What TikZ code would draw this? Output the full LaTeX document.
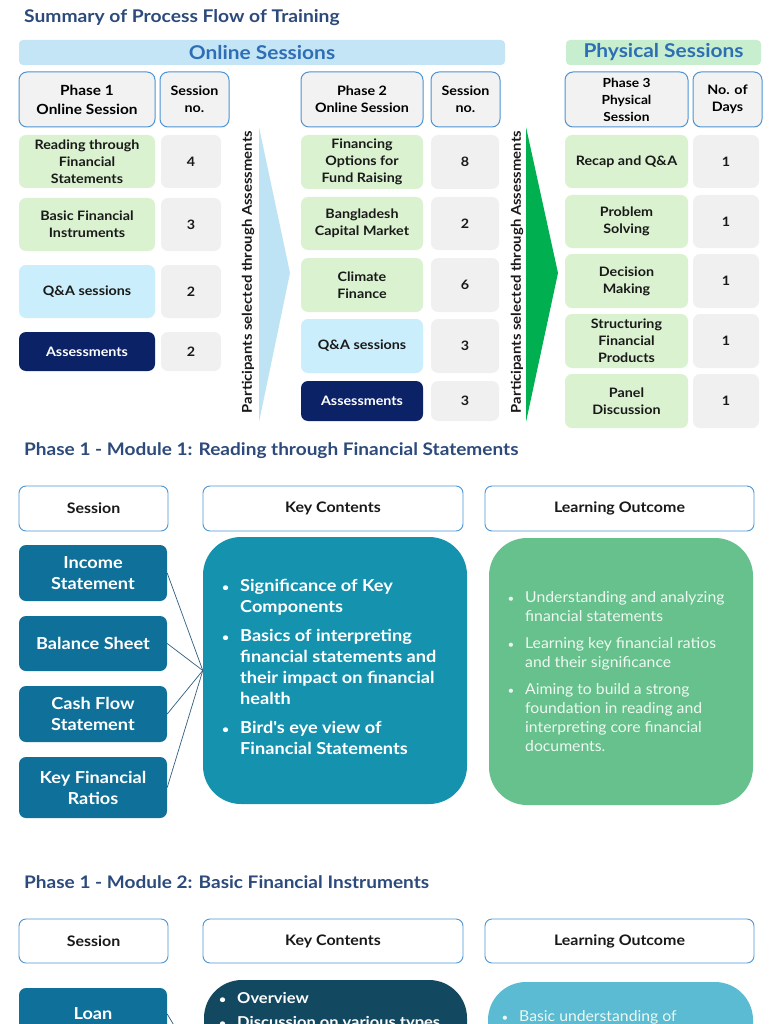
\documentclass[tikz,border=0pt]{standalone}
\usepackage{fontspec}
\setmainfont{Lato}[FakeStretch=1.05,BoldFeatures={FakeStretch=1.1}]
\definecolor{titleblue}{HTML}{2C4A7B}
\definecolor{bannertext}{HTML}{2E6EB5}
\definecolor{bannerblue}{HTML}{C3E5F6}
\definecolor{bannergreen}{HTML}{C7EFCF}
\definecolor{hdrborder}{HTML}{4C94D4}
\definecolor{hdrfill}{HTML}{F2F2F2}
\definecolor{rowgreen}{HTML}{DAF2D0}
\definecolor{rowblue}{HTML}{CAEEFB}
\definecolor{rownavy}{HTML}{0C2266}
\definecolor{numgray}{HTML}{F0F0F0}
\definecolor{arrowblue}{HTML}{BDE3F5}
\definecolor{arrowgreen}{HTML}{00B050}
\definecolor{sessteal}{HTML}{0F7199}
\definecolor{kcteal}{HTML}{1592AE}
\definecolor{logreen}{HTML}{66C18C}
\definecolor{lotext}{HTML}{EEF8F1}
\definecolor{conncol}{HTML}{2F5F80}
\definecolor{kcdark}{HTML}{134861}
\definecolor{lolight}{HTML}{5ABBD3}
\newcommand\bul{\llap{{\fontsize{11}{11}\selectfont\textbullet}\hspace{11pt}}}
\begin{document}
\begin{tikzpicture}[x=1pt,y=-1pt,
  wh/.style n args={2}{minimum width=#1pt,minimum height=#2pt},
  banner/.style={rounded corners=4pt,inner sep=0pt,font=\bfseries\fontsize{19}{21}\selectfont,text=bannertext},
  hdr/.style={draw=hdrborder,line width=1pt,fill=hdrfill,rounded corners=8pt,inner sep=0pt,align=center,font=\bfseries\fontsize{13}{17}\selectfont},
  cellbox/.style={rounded corners=7pt,inner sep=0pt,align=center,font=\bfseries\fontsize{13}{17}\selectfont,text=black!90},
  gcell/.style={cellbox,fill=rowgreen},
  bcell/.style={cellbox,fill=rowblue},
  ncell/.style={cellbox,fill=rownavy,text=white},
  numcell/.style={cellbox,fill=numgray},
  arrlabel/.style={rotate=90,inner sep=0pt,font=\bfseries\fontsize{13.5}{15}\selectfont,text=black!90},
  sectitle/.style={anchor=base west,inner sep=0pt,font=\bfseries\fontsize{17.3}{20}\selectfont,text=titleblue},
  modhdr/.style={draw=hdrborder,line width=0.9pt,fill=white,rounded corners=7pt,inner sep=0pt,align=center,font=\bfseries\fontsize{14.5}{18}\selectfont,text=black!90},
  sess/.style={fill=sessteal,rounded corners=7pt,inner sep=0pt,align=center,text=white,font=\bfseries\fontsize{16.5}{21}\selectfont},
  bigbox/.style={rounded corners=38pt,inner sep=0pt},
  conn/.style={draw=conncol,line width=0.7pt},
  bultext/.style={anchor=north west,inner sep=0pt,align=left}
]
\useasboundingbox (0,0) rectangle (768,1024);
\fill[white] (0,0) rectangle (768,1024);
\clip (0,0) rectangle (768,1024);

% ---------- Summary ----------
\node[sectitle,font=\bfseries\fontsize{17.5}{20}\selectfont] (title) at (24,22.5) {Summary of Process Flow of Training};

\node[banner,fill=bannerblue,wh={486}{25}] (onl) at (262,52.5) {Online Sessions};
\node[banner,fill=bannergreen,wh={195}{25}] (phy) at (663.5,52.5) {Physical Sessions};

% headers
\node[hdr,wh={136}{55},font=\bfseries\fontsize{14}{19}\selectfont] (h1) at (87,99.5) {Phase 1\\Online Session};
\node[hdr,wh={69}{55}] (h1n) at (194.5,99.5) {Session\\no.};
\node[hdr,wh={122}{55}] (h2) at (362,99.5) {Phase 2\\Online Session};
\node[hdr,wh={69}{55}] (h2n) at (465.5,99.5) {Session\\no.};
\node[hdr,wh={123}{55},font=\bfseries\fontsize{12.5}{17}\selectfont] (h3) at (626.5,99.5) {Phase 3\\Physical\\Session};
\node[hdr,wh={69}{55}] (h3n) at (727.5,99.5) {No. of\\Days};

% phase 1 rows
\node[gcell,wh={136}{53}] (r1) at (87,161.5) {Reading through\\Financial\\Statements};
\node[numcell,wh={60}{53}] (r1n) at (191,161.5) {4};
\node[gcell,wh={136}{53}] (r2) at (87,224.5) {Basic Financial\\Instruments};
\node[numcell,wh={60}{53}] (r2n) at (191,224.5) {3};
\node[bcell,wh={136}{53}] (r3) at (87,291.5) {Q\&A sessions};
\node[numcell,wh={60}{53}] (r3n) at (191,291.5) {2};
\node[ncell,wh={136}{39}] (r4) at (87,351.5) {Assessments};
\node[numcell,wh={60}{39}] (r4n) at (191,351.5) {2};

% phase 2 rows
\node[gcell,wh={122}{54}] (s1) at (362,162) {Financing\\Options for\\Fund Raising};
\node[numcell,wh={68}{54}] (s1n) at (465,162) {8};
\node[gcell,wh={122}{53}] (s2) at (362,223.5) {Bangladesh\\Capital Market};
\node[numcell,wh={68}{53}] (s2n) at (465,223.5) {2};
\node[gcell,wh={122}{54}] (s3) at (362,285) {Climate\\Finance};
\node[numcell,wh={68}{54}] (s3n) at (465,285) {6};
\node[bcell,wh={122}{54}] (s4) at (362,346) {Q\&A sessions};
\node[numcell,wh={68}{54}] (s4n) at (465,346) {3};
\node[ncell,wh={122}{40}] (s5) at (362,401) {Assessments};
\node[numcell,wh={68}{40}] (s5n) at (465,401) {3};

% phase 3 rows
\node[gcell,wh={123}{53}] (t1) at (626.5,161.5) {Recap and Q\&A};
\node[numcell,wh={66}{53}] (t1n) at (726,161.5) {1};
\node[gcell,wh={123}{53}] (t2) at (626.5,221.5) {Problem\\Solving};
\node[numcell,wh={66}{53}] (t2n) at (726,221.5) {1};
\node[gcell,wh={123}{54}] (t3) at (626.5,281) {Decision\\Making};
\node[numcell,wh={66}{54}] (t3n) at (726,281) {1};
\node[gcell,wh={123}{54}] (t4) at (626.5,341) {Structuring\\Financial\\Products};
\node[numcell,wh={66}{54}] (t4n) at (726,341) {1};
\node[gcell,wh={123}{54}] (t5) at (626.5,401) {Panel\\Discussion};
\node[numcell,wh={66}{54}] (t5n) at (726,401) {1};

% arrows
\fill[arrowblue] (259,127) -- (290,273) -- (259,422) -- cycle;
\node[arrlabel] (a1) at (248,272) {Participants selected through Assessments};
\fill[arrowgreen] (526,127) -- (558,273) -- (526,422) -- cycle;
\node[arrlabel] (a2) at (517,272) {Participants selected through Assessments};

% ---------- Module 1 ----------
\node[sectitle] (m1title) at (24,455) {Phase 1 - Module 1: Reading through Financial Statements};
\node[modhdr,wh={149}{45}] (hs) at (93.5,508.5) {Session};
\node[modhdr,wh={260}{45}] (hk) at (333,508.5) {Key Contents};
\node[modhdr,wh={269}{45}] (hl) at (619.5,508.5) {Learning Outcome};

\node[sess,wh={148}{56}] (m1) at (93,573) {Income\\Statement};
\node[sess,wh={148}{55}] (m2) at (93,643.5) {Balance Sheet};
\node[sess,wh={148}{56}] (m3) at (93,714) {Cash Flow\\Statement};
\node[sess,wh={148}{61}] (m4) at (93,787.5) {Key Financial\\Ratios};

\node[bigbox,fill=kcteal,wh={264}{267}] (kc) at (335,670.5) {};
\node[bigbox,fill=logreen,wh={264}{267}] (lo) at (621,671.5) {};

\draw[conn] (m1.east) -- (kc.west);
\draw[conn] (m2.east) -- (kc.west);
\draw[conn] (m3.east) -- (kc.west);
\draw[conn] (m4.east) -- (kc.west);

\node[bultext,text=white,font=\bfseries\fontsize{16.5}{21}\selectfont] (kct) at (240,579) {%
\bul Significance of Key\\Components\\[8pt]%
\bul Basics of interpreting\\financial statements and\\their impact on financial\\health\\[8pt]%
\bul Bird\textquotesingle s eye view of\\Financial Statements};

\node[bultext,text=lotext,font=\fontsize{15}{19}\selectfont] (lot) at (525,591.5) {%
\bul Understanding and analyzing\\financial statements\\[8pt]%
\bul Learning key financial ratios\\and their significance\\[8pt]%
\bul Aiming to build a strong\\foundation in reading and\\interpreting core financial\\documents.};

% ---------- Module 2 ----------
\node[sectitle] (m2title) at (24,888) {Phase 1 - Module 2: Basic Financial Instruments};
\node[modhdr,wh={149}{44}] (hs2) at (93.5,941) {Session};
\node[modhdr,wh={260}{44}] (hk2) at (333,941) {Key Contents};
\node[modhdr,wh={269}{44}] (hl2) at (619.5,941) {Learning Outcome};

\node[sess,wh={148}{52}] (loan) at (93,1014) {Loan};
\node[bigbox,fill=kcdark,wh={263}{190}] (kc2) at (335.5,1075) {};
\node[bigbox,fill=lolight,wh={265}{188}] (lo2) at (620.5,1076) {};
\draw[conn] (loan.east) -- (kc2.west);

\node[bultext,text=white,font=\bfseries\fontsize{15}{21}\selectfont] (kc2t) at (237,992.5) {%
\bul Overview\\[3pt]%
\bul Discussion on various types};
\node[bultext,text=lotext,font=\fontsize{15}{19}\selectfont] (lo2t) at (519,1010.5) {%
\bul Basic understanding of};
\end{tikzpicture}
\end{document}
